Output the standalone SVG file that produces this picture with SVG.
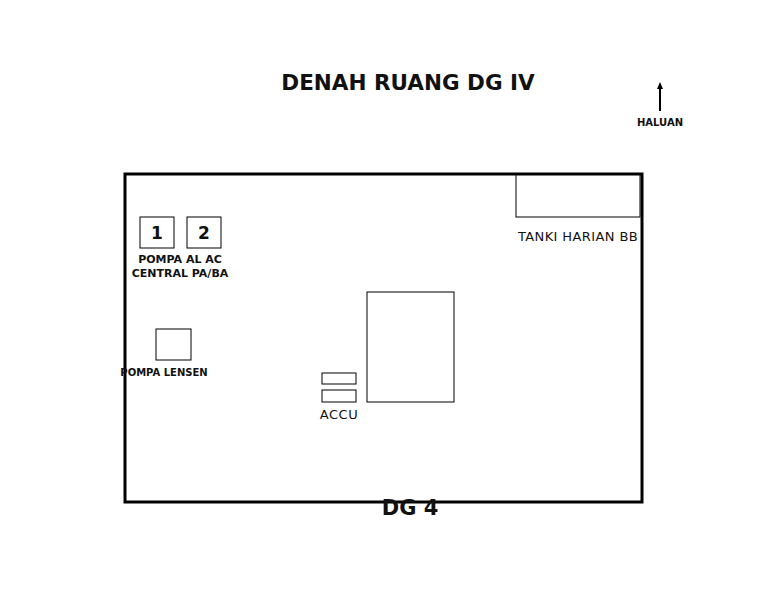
<svg xmlns="http://www.w3.org/2000/svg" width="768" height="594" viewBox="0 0 768 594">
<style>
.b{fill:none;stroke:#000;stroke-width:1}
.t{font-family:"DejaVu Sans",sans-serif;font-weight:bold;fill:#111;text-anchor:middle}
</style>
<rect width="768" height="594" fill="#fff"/>
<text class="t" x="408" y="90" font-size="21.5">DENAH RUANG DG IV</text>
<g id="haluan"><text class="t" x="660" y="126" font-size="10">HALUAN</text></g>
<g id="connectors"><line x1="660" y1="111" x2="660" y2="88" stroke="#000" stroke-width="2"/><polygon points="657,89 660,82 663,89" fill="#000"/></g>
<g id="room"><rect x="125" y="174" width="517" height="328" fill="none" stroke="#000" stroke-width="3"/>
<text class="t" x="410" y="515" font-size="21">DG 4</text></g>
<g id="tanki"><rect class="b" x="516" y="174" width="124" height="43"/><text class="t" x="578" y="241" font-size="13" style="font-weight:normal;letter-spacing:0.4px">TANKI HARIAN BB</text></g>
<g id="p1"><rect class="b" x="140" y="217" width="34" height="31"/><text class="t" x="157" y="239" font-size="17">1</text></g>
<g id="p2"><rect class="b" x="187" y="217" width="34" height="31"/><text class="t" x="204" y="239" font-size="17">2</text></g>
<text class="t" x="180" y="263" font-size="11">POMPA AL AC</text>
<text class="t" x="180" y="277" font-size="11">CENTRAL PA/BA</text>
<g id="lensen"><rect class="b" x="156" y="329" width="35" height="31"/><text class="t" x="164" y="376" font-size="10">POMPA LENSEN</text></g>
<g id="dg"><rect class="b" x="367" y="292" width="87" height="110"/></g>
<g id="accu"><rect class="b" x="322" y="373" width="34" height="11"/><rect class="b" x="322" y="390" width="34" height="12"/><text class="t" x="339" y="419" font-size="13" style="font-weight:normal;letter-spacing:0.6px">ACCU</text></g>
</svg>
